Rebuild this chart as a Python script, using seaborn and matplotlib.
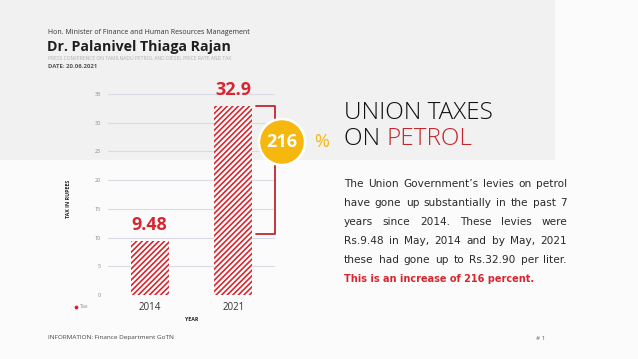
import matplotlib
matplotlib.use("Agg")
import matplotlib.pyplot as plt
import seaborn as sns
import pandas as pd
from matplotlib.patches import Rectangle, Circle
from matplotlib.lines import Line2D

# chart data
years = ["2014", "2021"]
tax = [9.48, 32.9]
value_labels = ["9.48", "32.9"]
increase_pct = "216"
y_ticks = [0, 5, 10, 15, 20, 25, 30, 35]

body_lines = [
    "The Union Government\u2019s levies on petrol",
    "have gone up substantially in the past 7",
    "years since 2014.  These levies were",
    "Rs.9.48 in May, 2014 and by May, 2021",
    "these had gone up to Rs.32.90 per liter.",
]
body_last = "This is an increase of 216 percent."

RED = "#d7262e"
DARK_RED = "#c1272d"
YELLOW = "#f6b70f"
FONT = "Open Sans"

sns.set_theme(style="white")
plt.rcParams["font.family"] = [FONT, "DejaVu Sans"]
plt.rcParams["hatch.linewidth"] = 1.2

W, H = 638, 359
fig = plt.figure(figsize=(W / 100, H / 100), dpi=100, facecolor="#fbfbfb")


def fx(px):
    return px / W


def fy(py):
    return 1 - py / H


# grey header panel
fig.patches.append(Rectangle((0, fy(160)), fx(555), 1 - fy(160), transform=fig.transFigure,
                             facecolor="#f1f1f1", edgecolor="none", zorder=-5))

# header texts
fig.text(fx(48), fy(33), "Hon. Minister of Finance and Human Resources Management",
         fontsize=5.0, color="#333333", va="center")
fig.text(fx(47), fy(47), "Dr. Palanivel Thiaga Rajan", fontsize=10.2, fontweight="bold",
         color="#1e1e1e", va="center")
fig.text(fx(48), fy(58), "PRESS CONFERENCE ON TAMILNADU PETROL AND DIESEL PRICE RATE AND TAX",
         fontsize=3.6, color="#b0b0b0", va="center")
fig.text(fx(48), fy(67), "DATE: 20.06.2021", fontsize=4.3, fontweight="bold",
         color="#555555", va="center")

# bar chart
ax = fig.add_axes([fx(108), fy(295), fx(275) - fx(108), fy(94) - fy(295)], zorder=1)
ax.set_facecolor("none")
df = pd.DataFrame({"Year": years, "Tax": tax})
sns.barplot(data=df, x="Year", y="Tax", color=RED, width=0.46, ax=ax, zorder=3)
for p in ax.patches:
    p.set_facecolor("white")
    p.set_edgecolor(RED)
    p.set_hatch("//////")
    p.set_linewidth(0)

ax.set_xlim(-0.5, 1.5)
ax.set_ylim(0, 35)
ax.set_yticks(y_ticks)
ax.grid(axis="y", color="#dcd8e4", linewidth=0.8, zorder=0)
ax.set_axisbelow(True)
for s in ax.spines.values():
    s.set_visible(False)
ax.tick_params(axis="y", labelsize=4, labelcolor="#888888", length=0, pad=5)
ax.tick_params(axis="x", labelsize=7, labelcolor="#333333", length=0, pad=5)
ax.set_ylabel("TAX IN RUPEES", fontsize=3.8, fontweight="bold", color="#222222")
ax.yaxis.set_label_coords(-0.22, 0.48)
ax.set_xlabel("YEAR", fontsize=3.8, fontweight="bold", color="#222222")
ax.xaxis.set_label_coords(0.5, -0.11)

# value labels above bars
for i, (v, lab) in enumerate(zip(tax, value_labels)):
    ax.text(i, v + 1.2, lab, ha="center", va="bottom", fontsize=13, fontweight="bold",
            color=RED, clip_on=False)

# bracket from 2021 bar top down towards 2014 level
b_top, b_bot = tax[1], tax[0] + 1.1
xb0, xb1 = 1.27, 1.5
ax.plot([xb0, xb1, xb1, xb0], [b_top, b_top, b_bot, b_bot], color=DARK_RED,
        linewidth=1.3, clip_on=False, zorder=4)

# legend
ax.legend(handles=[Line2D([0], [0], marker="o", color=RED, linestyle="", markersize=1.8)],
          labels=["Tax"], loc="center left", bbox_to_anchor=(fx(70), fy(307)),
          bbox_transform=fig.transFigure, frameon=False, fontsize=3.8,
          handlelength=0.6, handletextpad=0.3, labelcolor="#888888")

# yellow circle with the percentage
circ = Circle((fx(282) * W, fy(142) * H), 23, transform=None, facecolor=YELLOW,
              edgecolor="white", linewidth=1.8, zorder=5)
fig.patches.append(circ)
fig.text(fx(282), fy(142), increase_pct, ha="center", va="center", fontsize=13,
         fontweight="bold", color="white", zorder=6)
fig.text(fx(322), fy(142), "%", ha="center", va="center", fontsize=13,
         color=YELLOW, zorder=6)

# title
fig.text(fx(344), fy(113), "UNION TAXES", fontsize=17.5, fontweight="light",
         color="#111111", va="center")
t_on = fig.text(fx(344), fy(139), "ON ", fontsize=17.5, fontweight="light",
                color="#111111", va="center")

fig.canvas.draw()
r = fig.canvas.get_renderer()
on_w = t_on.get_window_extent(r).width
fig.text(fx(344 + on_w), fy(139), "PETROL", fontsize=17.5, fontweight="light",
         color=DARK_RED, va="center")

# justified body text
x0, x1 = 344, 567
line_y = [184, 203, 222, 241, 260]
for line, py in zip(body_lines, line_y):
    words = line.split()
    arts = [fig.text(0, fy(py), w, fontsize=7.6, color="#2a2a2a", va="center",
                     family=["DejaVu Sans"]) for w in words]
    widths = [a.get_window_extent(r).width for a in arts]
    gap = ((x1 - x0) - sum(widths)) / (len(words) - 1)
    xp = x0
    for a, w in zip(arts, widths):
        a.set_x(fx(xp))
        xp += w + gap
fig.text(fx(x0), fy(279), body_last, fontsize=7.0, fontweight="bold", color=RED,
         va="center", family=["DejaVu Sans"])

# footer
fig.text(fx(48), fy(338), "INFORMATION: Finance Department GoTN", fontsize=4.6,
         color="#444444", va="center")
fig.text(fx(536), fy(338), "# 1", fontsize=4.6, color="#666666", va="center")

fig.savefig("out.png", dpi=100, facecolor=fig.get_facecolor())
